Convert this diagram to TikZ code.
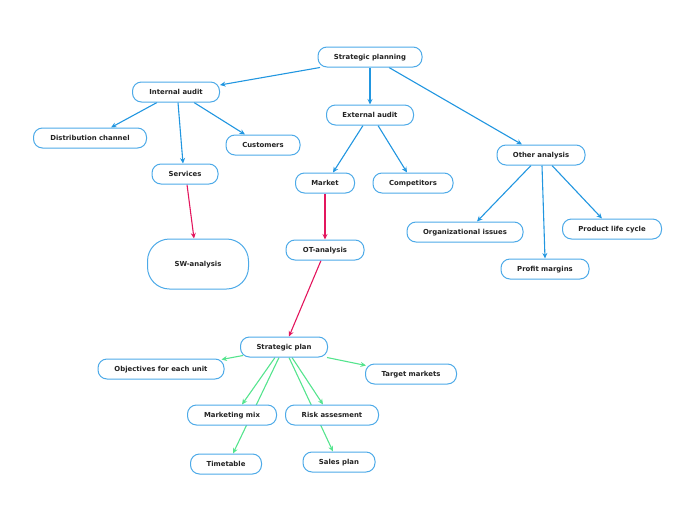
\documentclass[tikz,border=0pt]{standalone}
\usepackage{fontspec}
\setmainfont{DejaVu Sans}
\usetikzlibrary{arrows.meta,backgrounds}

\definecolor{boxblue}{HTML}{4DAAE8}
\definecolor{lineblue}{HTML}{2196E0}
\definecolor{linered}{HTML}{E3175E}
\definecolor{linegreen}{HTML}{55E48E}
\definecolor{textdark}{HTML}{222222}

\tikzset{
    topic/.style={draw=boxblue, line width=1pt, fill=white, rounded corners=9pt,
        minimum height=20pt, inner sep=0pt, text=textdark,
        text height=5pt, text depth=0.5pt,
        font=\fontsize{6.9}{8}\selectfont\bfseries},
    blueline/.style={draw=lineblue, line width=1.1pt, -{Stealth[length=5.5pt,width=5pt]}},
    redline/.style={draw=linered, line width=1.1pt, -{Stealth[length=5.5pt,width=5pt]}},
    greenline/.style={draw=linegreen, line width=1.1pt, -{Stealth[length=5.5pt,width=5pt]}}
}

\begin{document}
\begin{tikzpicture}[x=1pt, y=-1pt]  % 坐标按像素
    \useasboundingbox (0,0) rectangle (697,520);

    % 第一层
    \node[topic, minimum width=104pt] (plan) at (370,57) {Strategic planning};

    % 第二层
    \node[topic, minimum width=87pt] (inaudit) at (176,92) {Internal audit};
    \node[topic, minimum width=87pt] (exaudit) at (370,115) {External audit};
    \node[topic, minimum width=88pt] (other) at (541,155) {Other analysis};

    % 内部审计
    \node[topic, minimum width=113pt] (distr) at (90,138) {Distribution channel};
    \node[topic, minimum width=74pt] (custom) at (263,145) {Customers};
    \node[topic, minimum width=66pt] (serv) at (185,174) {Services};
    \node[topic, minimum width=101pt, minimum height=50pt, rounded corners=22pt] (sw) at (198,264) {SW-analysis};

    % 外部审计
    \node[topic, minimum width=59pt] (market) at (325,183) {Market};
    \node[topic, minimum width=80pt] (compet) at (413,183) {Competitors};
    \node[topic, minimum width=78pt] (ot) at (325,250) {OT-analysis};

    % 其他分析
    \node[topic, minimum width=116pt] (organ) at (465,232) {Organizational issues};
    \node[topic, minimum width=99pt] (life) at (612,229) {Product life cycle};
    \node[topic, minimum width=88pt] (profit) at (545,269) {Profit margins};

    % 战略计划
    \node[topic, minimum width=87pt] (splan) at (284,347) {Strategic plan};
    \node[topic, minimum width=126pt] (object) at (161,369) {Objectives for each unit};
    \node[topic, minimum width=91pt] (target) at (411,374) {Target markets};
    \node[topic, minimum width=89pt] (mix) at (232,415) {Marketing mix};
    \node[topic, minimum width=93pt] (risk) at (332,415) {Risk assesment};
    \node[topic, minimum width=71pt] (time) at (226,464) {Timetable};
    \node[topic, minimum width=72pt] (sales) at (339,462) {Sales plan};

    \begin{scope}[on background layer]
        % 蓝色连线
        \draw[blueline] ([xshift=-50pt]plan.south) -- ([yshift=7pt]inaudit.east);
        \draw[blueline] (plan.south) -- (exaudit.north);
        \draw[blueline] ([xshift=19pt]plan.south) -- ([xshift=-19pt]other.north);
        \draw[blueline] ([xshift=-19pt]inaudit.south) -- ([xshift=21pt]distr.north);
        \draw[blueline] ([xshift=2pt]inaudit.south) -- ([xshift=-2pt]serv.north);
        \draw[blueline] ([xshift=18pt]inaudit.south) -- ([xshift=-18pt]custom.north);
        \draw[blueline] ([xshift=-7pt]exaudit.south) -- ([xshift=8pt]market.north);
        \draw[blueline] ([xshift=8pt]exaudit.south) -- ([xshift=-6pt]compet.north);
        \draw[blueline] ([xshift=-10pt]other.south) -- ([xshift=12pt]organ.north);
        \draw[blueline] ([xshift=1pt]other.south) -- (profit.north);
        \draw[blueline] ([xshift=11pt]other.south) -- ([xshift=-10pt]life.north);

        % 红色连线
        \draw[redline] ([xshift=2pt]serv.south) -- ([xshift=-4pt]sw.north);
        \draw[redline] (market.south) -- (ot.north);
        \draw[redline] ([xshift=-4pt]ot.south) -- ([xshift=5pt]splan.north);

        % 绿色连线
        \draw[greenline] ([xshift=3pt,yshift=2pt]splan.south west) -- ([xshift=-3pt,yshift=-1pt]object.north east);
        \draw[greenline] ([xshift=-1pt]splan.south east) -- ([xshift=1pt,yshift=-2pt]target.north west);
        \draw[greenline] ([xshift=-9pt]splan.south) -- ([xshift=10pt]mix.north);
        \draw[greenline] ([xshift=-5pt]splan.south) -- ([xshift=7pt]time.north);   % 穿过 Marketing mix
        \draw[greenline] ([xshift=8pt]splan.south) -- ([xshift=-9pt]risk.north);
        \draw[greenline] ([xshift=5pt]splan.south) -- ([xshift=-6pt]sales.north);  % 穿过 Risk assesment
    \end{scope}

\end{tikzpicture}
\end{document}
